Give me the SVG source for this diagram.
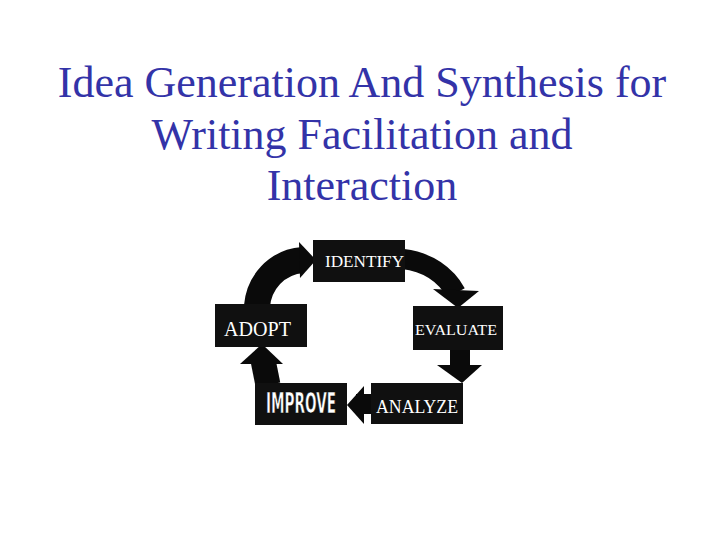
<svg xmlns="http://www.w3.org/2000/svg" width="720" height="540" viewBox="0 0 720 540">
<style>
.title{font-family:"Liberation Serif","Times New Roman",serif;font-size:44px;fill:#3333a8;text-anchor:middle}
.box{fill:#101010}
.lbl{font-family:"Liberation Serif","Times New Roman",serif;fill:#ffffff}
.imp{font-family:"Liberation Sans Narrow","DejaVu Sans Condensed","Liberation Sans",sans-serif;font-weight:bold;fill:#ffffff;stroke:#000;stroke-width:0.4}
.stem{fill:none;stroke:#0a0a0a}
.head{fill:#0a0a0a}
</style>
<rect width="720" height="540" fill="#ffffff"/>
<g id="title">
<text class="title" x="362" y="97">Idea Generation And Synthesis for</text>
<text class="title" x="362" y="149">Writing Facilitation and</text>
<text class="title" x="362" y="200">Interaction</text>
</g>
<g id="connectors">
<path class="stem" stroke-width="26" d="M257,306 C259,283 276,262 303,260"/>
<polygon class="head" points="299,242 300,278 316,260"/>
<path class="stem" stroke-width="20" d="M403,259 C428,262 446,275 456,293"/>
<polygon class="head" points="433,289 479,291 458,308"/>
<path class="stem" stroke-width="20" d="M460,349 L460,367"/>
<polygon class="head" points="437,365 482,365 462,383"/>
<path class="stem" stroke-width="20" d="M356,404 L373,404"/>
<polygon class="head" points="347,405 364,386 364,424"/>
<path class="stem" stroke-width="25" d="M268,385 L263,360"/>
<polygon class="head" points="240,364 283,364 262,344"/>
</g>
<g id="identify">
<rect class="box" x="313" y="240" width="92" height="42"/>
<text class="lbl" x="325" y="267" font-size="16" textLength="79" lengthAdjust="spacingAndGlyphs">IDENTIFY</text>
</g>
<g id="adopt">
<rect class="box" x="215" y="304" width="92" height="43"/>
<text class="lbl" x="224" y="336" font-size="20" textLength="67" lengthAdjust="spacingAndGlyphs">ADOPT</text>
</g>
<g id="evaluate">
<rect class="box" x="413" y="306" width="90" height="44"/>
<text class="lbl" x="415" y="335" font-size="14" textLength="82" lengthAdjust="spacingAndGlyphs">EVALUATE</text>
</g>
<g id="improve">
<rect class="box" x="255" y="383" width="92" height="42"/>
<text class="imp" transform="translate(266,413) scale(1,1.45)" x="0" y="0" font-size="19" textLength="70" lengthAdjust="spacingAndGlyphs">IMPROVE</text>
</g>
<g id="analyze">
<rect class="box" x="371" y="383" width="92" height="41"/>
<text class="lbl" x="376" y="413" font-size="18" textLength="82" lengthAdjust="spacingAndGlyphs">ANALYZE</text>
</g>
</svg>
